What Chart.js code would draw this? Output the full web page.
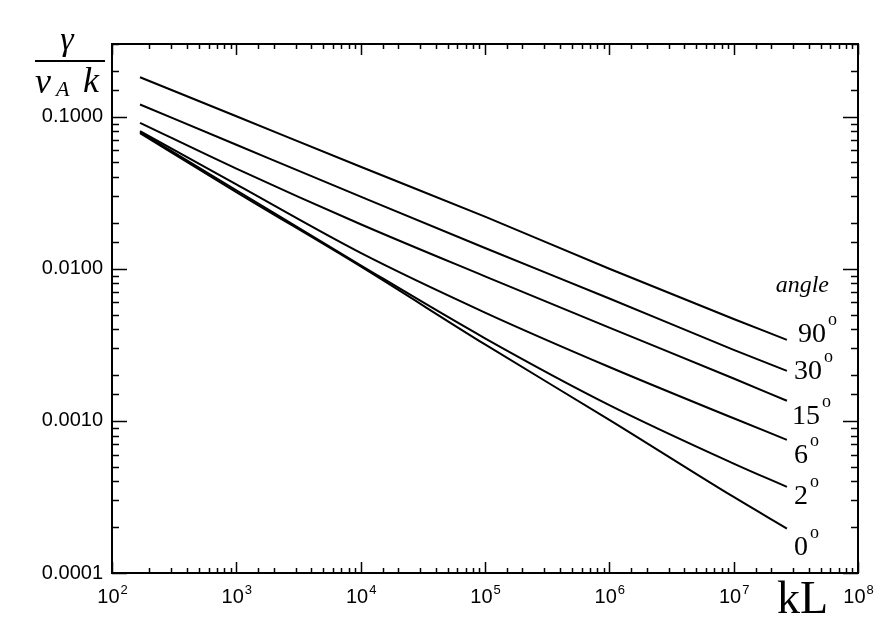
<!DOCTYPE html>
<html>
<head>
<meta charset="utf-8">
<script src="https://cdn.jsdelivr.net/npm/chart.js@4/dist/chart.umd.min.js"></script>
<style>
  html, body { margin: 0; padding: 0; background: #fff; }
  #wrap { width: 891px; height: 621px; }
</style>
</head>
<body>
<div id="wrap"><canvas id="growthChart" width="891" height="621"></canvas></div>
<script>
// kL sample points and growth rate gamma/(v_A k) per propagation angle
const kL = [168, 1e3, 1e4, 1e5, 1e6, 1e7, 2.68e7];
const gamma90 = [0.1815, 0.1005, 0.0468, 0.0220, 0.0100, 0.00467, 0.00341];
const gamma30 = [0.120, 0.0653, 0.0298, 0.01368, 0.00637, 0.00293, 0.00213];
const gamma15 = [0.091, 0.0455, 0.0196, 0.00891, 0.00410, 0.00190, 0.001355];
const gamma6 = [0.0803, 0.0358, 0.0127, 0.00515, 0.00226, 0.00104, 0.00075];
const gamma2 = [0.0791, 0.0328, 0.01054, 0.00349, 0.00127, 0.000524, 0.000368];
const gamma0 = [0.0779, 0.0319, 0.01035, 0.00318, 0.001016, 0.000316, 0.000196];
const angles = ['90', '30', '15', '6', '2', '0'];

// tick labels
const yTicks = [0.0001, 0.001, 0.01, 0.1];
const yTickText = ['0.0001', '0.0010', '0.0100', '0.1000'];
const xTicks = [1e2, 1e3, 1e4, 1e5, 1e6, 1e7, 1e8];
const xTickExp = ['2', '3', '4', '5', '6', '7', '8'];

const series = [gamma90, gamma30, gamma15, gamma6, gamma2, gamma0];

function isDecade(v) {
  const e = Math.log10(v);
  return Math.abs(e - Math.round(e)) < 1e-6;
}

// inward tick marks on all four sides, box frame, annotations
const frameTicks = {
  id: 'frameTicks',
  afterDraw(chart) {
    const { ctx, chartArea: a, scales: { x, y } } = chart;
    ctx.save();
    ctx.strokeStyle = '#000';
    ctx.lineWidth = 1.5;
    ctx.beginPath();
    x.ticks.forEach(t => {
      const px = Math.round(x.getPixelForValue(t.value)) + 0.5;
      const len = isDecade(t.value) ? 11 : 5;
      ctx.moveTo(px, a.bottom); ctx.lineTo(px, a.bottom - len);
      ctx.moveTo(px, a.top); ctx.lineTo(px, a.top + len);
    });
    y.ticks.forEach(t => {
      const py = Math.round(y.getPixelForValue(t.value)) + 0.5;
      const len = isDecade(t.value) ? 15 : 7;
      ctx.moveTo(a.left, py); ctx.lineTo(a.left + len, py);
      ctx.moveTo(a.right, py); ctx.lineTo(a.right - len, py);
    });
    ctx.stroke();
    ctx.lineWidth = 2;
    ctx.strokeRect(a.left, a.top, a.right - a.left, a.bottom - a.top);

    // x tick labels 10^n
    ctx.fillStyle = '#000';
    ctx.textBaseline = 'alphabetic';
    xTicks.forEach((v, i) => {
      const px = x.getPixelForValue(v);
      ctx.font = '20px "Liberation Sans", Arial, sans-serif';
      const w1 = ctx.measureText('10').width;
      ctx.font = '13px "Liberation Sans", Arial, sans-serif';
      const w2 = ctx.measureText(xTickExp[i]).width;
      const left = px - (w1 + w2) / 2;
      ctx.font = '20px "Liberation Sans", Arial, sans-serif';
      ctx.fillText('10', left, 603);
      ctx.font = '13px "Liberation Sans", Arial, sans-serif';
      ctx.fillText(xTickExp[i], left + w1 + 1, 594);
    });

    // axis titles
    ctx.font = 'italic 34px "Liberation Serif", "Times New Roman", serif';
    ctx.textAlign = 'center';
    ctx.fillText('\u03b3', 67, 50);
    ctx.fillRect(35, 60, 70, 2);
    ctx.textAlign = 'left';
    ctx.font = 'italic 36px "Liberation Serif", "Times New Roman", serif';
    ctx.fillText('v', 35, 93);
    ctx.fillText('k', 83, 92);
    ctx.font = 'italic 22px "Liberation Serif", "Times New Roman", serif';
    ctx.fillText('A', 56, 96);
    ctx.font = '46px "Liberation Serif", "Times New Roman", serif';
    ctx.fillText('kL', 777, 613);

    // angle labels
    ctx.font = 'italic 24px "Liberation Serif", "Times New Roman", serif';
    ctx.textAlign = 'right';
    ctx.fillText('angle', 829, 292);
    ctx.textAlign = 'left';
    const baselines = [342, 379, 424, 463, 504, 555];
    const lefts = [798, 794, 792, 794, 794, 794];
    angles.forEach((s, i) => {
      ctx.font = '28px "Liberation Serif", "Times New Roman", serif';
      ctx.fillText(s, lefts[i], baselines[i]);
      const w = ctx.measureText(s).width;
      ctx.font = '18px "Liberation Serif", "Times New Roman", serif';
      ctx.fillText('o', lefts[i] + w + 2, baselines[i] - 17);
    });
    ctx.restore();
  }
};

const ctx = document.getElementById('growthChart').getContext('2d');
const growthChart = new Chart(ctx, {
  type: 'line',
  data: {
    datasets: series.map((s, i) => ({
      label: angles[i] + '\u00b0',
      data: kL.map((k, j) => ({ x: k, y: s[j] })),
      borderColor: '#000',
      borderWidth: 2,
      pointRadius: 0,
      fill: false,
      cubicInterpolationMode: 'monotone'
    }))
  },
  options: {
    responsive: false,
    animation: false,
    layout: { padding: { top: 44, right: 33, bottom: 0, left: 0 } },
    plugins: { legend: { display: false }, tooltip: { enabled: false } },
    scales: {
      x: {
        type: 'logarithmic',
        min: 1e2,
        max: 1e8,
        grid: { display: false, drawTicks: false },
        border: { display: false },
        ticks: { display: false, autoSkip: false },
        afterFit: s => { s.height = 48; }
      },
      y: {
        type: 'logarithmic',
        min: 0.0001,
        max: 0.3,
        grid: { display: false, drawTicks: false },
        border: { display: false },
        ticks: {
          autoSkip: false,
          padding: 9,
          color: '#000',
          font: { family: '"Liberation Sans", Arial, sans-serif', size: 20 },
          callback: v => {
            const i = yTicks.findIndex(t => Math.abs(Math.log10(t) - Math.log10(v)) < 1e-6);
            return i >= 0 ? yTickText[i] : '';
          }
        },
        afterFit: s => { s.width = 112; }
      }
    }
  },
  plugins: [frameTicks]
});
</script>
</body>
</html>
